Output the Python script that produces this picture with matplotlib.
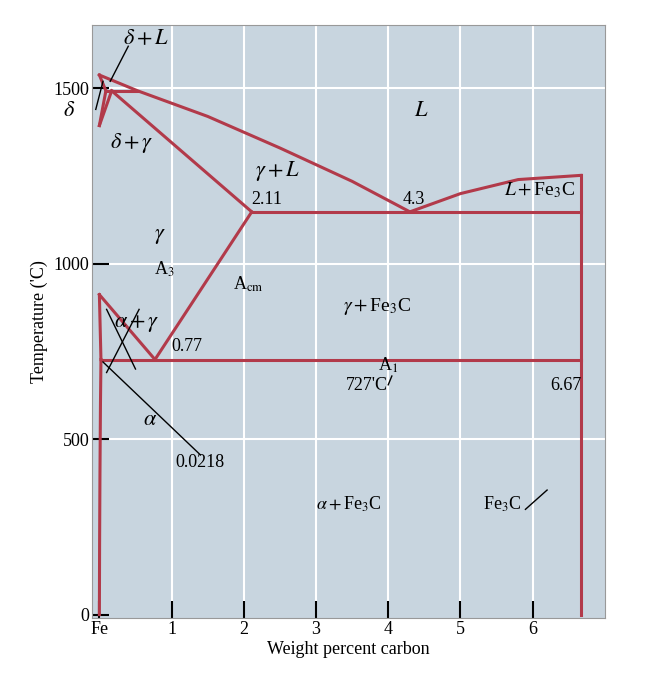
import matplotlib.pyplot as plt
import numpy as np

plt.rcParams['font.family'] = ['Liberation Serif', 'DejaVu Serif']
plt.rcParams['mathtext.fontset'] = 'stix'
red = '#b23a4a'

# key compositions (wt% C) and temperatures (C)
c_eutectic, t_eutectic = 4.3, 1148
c_gmax = 2.11
c_eutectoid, t_eutectoid = 0.77, 727
c_amax = 0.0218
c_cem = 6.67
t_melt, t_peri = 1538, 1493
t_a3 = 912

# liquidus points
liq_left_c = [0.0, 0.53, 1.5, 2.5, 3.5, 4.3]
liq_left_t = [1538, 1493, 1420, 1330, 1235, 1148]
liq_right_c = [4.3, 5.0, 5.8, 6.67]
liq_right_t = [1148, 1200, 1240, 1252]
# alpha solvus
solv_c = [0.0218, 0.015, 0.008, 0.003, 0.0]
solv_t = [727, 600, 400, 200, 0]

fig = plt.figure(figsize=(6.49, 7.0), dpi=100)
ax = fig.add_axes([0.142, 0.117, 0.79, 0.847])
ax.set_facecolor('#c8d5df')
ax.set_xlim(-0.1, 7.0)
ax.set_ylim(-10, 1680)

for xv in range(1, 7):
    ax.axvline(xv, color='white', lw=1.5, zorder=0)
for yv in [500, 1000, 1500]:
    ax.axhline(yv, color='white', lw=1.5, zorder=0)

kw = dict(color=red, lw=2.2)
ax.plot(liq_left_c, liq_left_t, **kw)
ax.plot(liq_right_c, liq_right_t, **kw)
ax.plot([c_gmax, c_cem], [t_eutectic] * 2, **kw)
ax.plot([0.17, c_gmax], [t_peri, t_eutectic], **kw)
ax.plot([c_eutectoid, c_gmax], [t_eutectoid, t_eutectic], **kw)
ax.plot([0, c_eutectoid], [t_a3, t_eutectoid], **kw)
ax.plot([0, c_amax], [t_a3, t_eutectoid], **kw)
ax.plot([c_amax, c_cem], [t_eutectoid] * 2, **kw)
ax.plot(solv_c, solv_t, **kw)
ax.plot([c_cem, c_cem], [0, 1252], **kw)
ax.plot([0.09, 0.53], [t_peri] * 2, **kw)
ax.plot([0, 0.09], [1394, t_peri], **kw)
ax.plot([0, 0.17], [1394, t_peri], **kw)
ax.plot([0, 0.09], [t_melt, t_peri], **kw)

# pointer lines
k = dict(color='black', lw=1)
ax.plot([0.05, 1.4], [720, 455], **k)
ax.plot([0.1, 0.55], [690, 870], **k)
ax.plot([0.1, 0.5], [870, 700], **k)
ax.plot([5.9, 6.2], [300, 355], **k)
ax.plot([4.0, 4.05], [655, 680], **k)
ax.plot([0.15, 0.4], [1520, 1620], **k)
ax.plot([-0.05, 0.05], [1440, 1520], **k)

fs = 16
ax.text(0.65, 1625, r'$\delta+L$', fontsize=fs, ha='center')
ax.text(-0.5, 1420, r'$\delta$', fontsize=fs)
ax.text(0.15, 1330, r'$\delta+\gamma$', fontsize=fs)
ax.text(0.75, 1070, r'$\gamma$', fontsize=fs)
ax.text(0.75, 970, 'A$_3$', fontsize=13)
ax.text(0.2, 820, r'$\alpha+\gamma$', fontsize=fs)
ax.text(0.6, 540, r'$\alpha$', fontsize=fs)
ax.text(1.0, 750, '0.77', fontsize=13)
ax.text(1.05, 420, '0.0218', fontsize=13)
ax.text(2.15, 1250, r'$\gamma+L$', fontsize=fs)
ax.text(2.1, 1170, '2.11', fontsize=13)
ax.text(4.2, 1170, '4.3', fontsize=13)
ax.text(4.35, 1420, r'$L$', fontsize=fs)
ax.text(5.6, 1195, r'$L+$Fe$_3$C', fontsize=14)
ax.text(1.85, 925, 'A$_{\\rm cm}$', fontsize=13)
ax.text(3.85, 865, r'$\gamma+$Fe$_3$C', fontsize=14, ha='center')
ax.text(4.0, 695, 'A$_1$', fontsize=13, ha='center')
ax.text(3.7, 640, "727'C", fontsize=13, ha='center')
ax.text(6.25, 640, '6.67', fontsize=13)
ax.text(3.45, 300, r'$\alpha+$Fe$_3$C', fontsize=13, ha='center')
ax.text(5.85, 300, 'Fe$_3$C', fontsize=13, ha='right')

ax.set_yticks([0, 500, 1000, 1500])
ax.set_yticklabels(['0', '500', '1000', '1500'], fontsize=13)
ax.set_xticks([0, 1, 2, 3, 4, 5, 6])
ax.set_xticklabels(['Fe', '1', '2', '3', '4', '5', '6'], fontsize=13)
ax.tick_params(direction='in', length=12, width=1.5, pad=2)
ax.set_ylabel("Temperature ('C)", fontsize=13)
ax.set_xlabel('Weight percent carbon', fontsize=13, labelpad=2)
for s in ax.spines.values():
    s.set_color('#999999')

fig.savefig('out.png')
